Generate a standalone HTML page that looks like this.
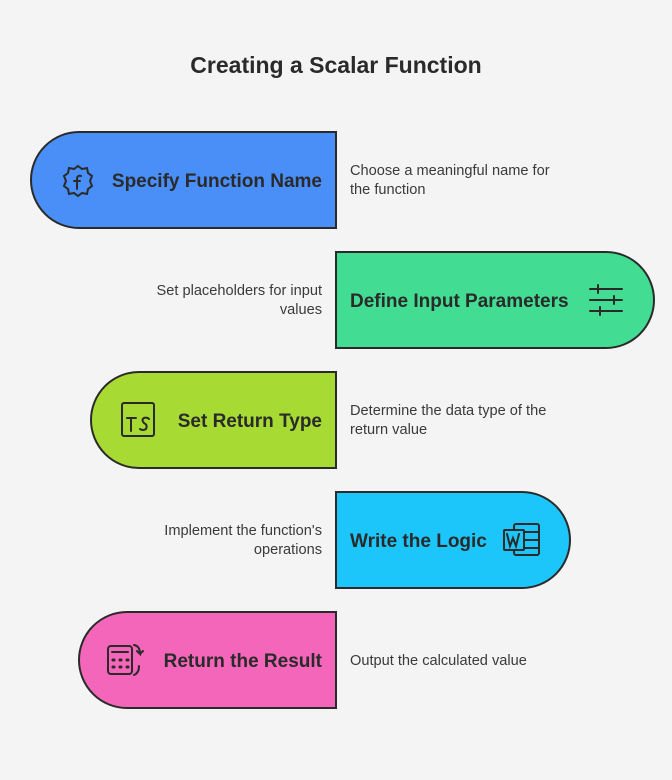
<!DOCTYPE html>
<html><head><meta charset="utf-8"><style>
body{margin:0;background:#f4f4f4;width:672px;height:780px;overflow:hidden;font-family:"Liberation Sans",sans-serif;color:#2a2a2a}
svg{position:absolute;left:0;top:0}
</style></head><body>
<svg width="672" height="780" xmlns="http://www.w3.org/2000/svg" font-family="Liberation Sans, sans-serif">
<text x="336" y="73" text-anchor="middle" font-size="23" font-weight="bold" fill="#2a2a2a">Creating a Scalar Function</text>
<g stroke="#2a2a2a" stroke-width="2">
<path d="M336,132 H79 A48,48 0 0 0 79,228 H336 Z" fill="#4a8ff8"/>
<path d="M336,252 H606 A48,48 0 0 1 606,348 H336 Z" fill="#42dd92"/>
<path d="M336,372 H139 A48,48 0 0 0 139,468 H336 Z" fill="#a7da33"/>
<path d="M336,492 H522 A48,48 0 0 1 522,588 H336 Z" fill="#1cc6fb"/>
<path d="M336,612 H127 A48,48 0 0 0 127,708 H336 Z" fill="#f466b9"/>
</g>
<g font-size="19" font-weight="bold" fill="#2a2a2a">
<text x="322" y="187" text-anchor="end">Specify Function Name</text>
<text x="350" y="307">Define Input Parameters</text>
<text x="322" y="427" text-anchor="end">Set Return Type</text>
<text x="350" y="547">Write the Logic</text>
<text x="322" y="667" text-anchor="end">Return the Result</text>
</g>
<g font-size="14.6" fill="#3a3a3a">
<text x="350" y="175">Choose a meaningful name for</text>
<text x="350" y="194">the function</text>
<text x="322" y="295" text-anchor="end">Set placeholders for input</text>
<text x="322" y="314" text-anchor="end">values</text>
<text x="350" y="415">Determine the data type of the</text>
<text x="350" y="434">return value</text>
<text x="322" y="535" text-anchor="end">Implement the function's</text>
<text x="322" y="554" text-anchor="end">operations</text>
<text x="350" y="665">Output the calculated value</text>
</g>
<g fill="none" stroke="#2a2a2a" stroke-width="2" stroke-linecap="round">
<g transform="translate(0,3)">
<path d="M78,163 l4,3 5,-1 1,5 4,3 -2,5 2,5 -4,3 -1,5 -5,-1 -4,3 -4,-3 -5,1 -1,-5 -4,-3 2,-5 -2,-5 4,-3 1,-5 5,1 z"/>
<path d="M81,173 q-4,-1 -4,3 v10 M74,178 h6"/>
</g>
<path d="M590,289 h32 M590,300 h32 M590,311 h32"/>
<path d="M598,285 v8 M614,296 v8 M600,307 v8"/>
<rect x="122" y="403" width="32" height="33" rx="2"/>
<path d="M127,418 h9 M131,418 v13"/>
<path d="M149,419 q-2,-2 -5,-1 q-3,2 0,5 q4,2 2,6 q-3,2 -6,0"/>
<rect x="514" y="524" width="25" height="31" rx="2"/>
<path d="M524,532 h15 M524,540 h15 M524,548 h15"/>
<rect x="504" y="530" width="20" height="20" rx="1" fill="#1cc6fb"/>
<path d="M507,534 l3,12 3,-8 3,8 3,-12"/>
<rect x="108" y="646" width="24" height="28" rx="3"/>
<path d="M112,652 h16"/>
<path d="M113,660 h1 M120,660 h1 M127,660 h1 M113,667 h1 M120,667 h1 M127,667 h1" stroke-width="3"/>
<path d="M134,645 q6,1 6,9 l-3,-3 M140,654 l3,-3 M134,675 q5,-2 5,-9"/>
</g>
</svg>
</body></html>
